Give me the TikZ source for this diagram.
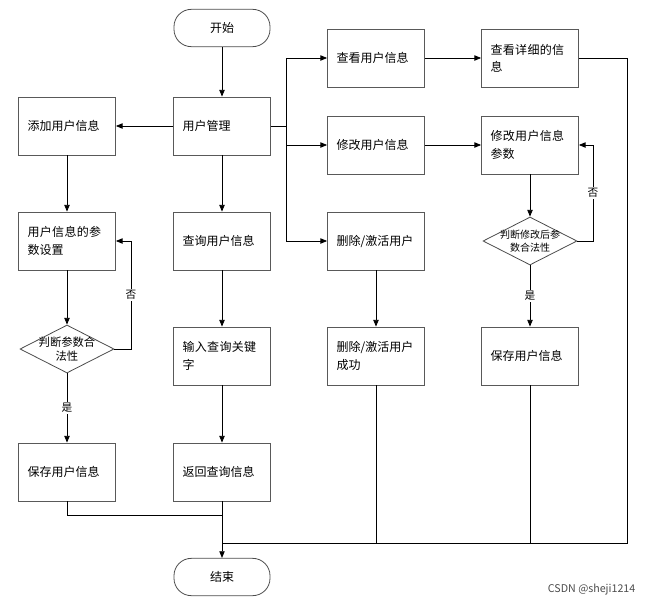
\documentclass[tikz,border=0pt]{standalone}
\usepackage{fontspec}
\setmainfont{Noto Sans CJK SC}
\XeTeXlinebreaklocale "zh"
\XeTeXlinebreakskip=0pt plus 1pt
\usetikzlibrary{shapes.geometric,arrows.meta}
\begin{document}
\begin{tikzpicture}[x=0.75pt,y=-0.75pt,
 box/.style={draw=black!65,line width=0.6pt,minimum width=72.75pt,minimum height=43.5pt,text width=59pt,align=left,font=\fontsize{9}{13}\selectfont,inner sep=3pt},
 term/.style={draw=black!70,line width=0.6pt,rounded corners=13pt,minimum width=72pt,minimum height=28pt,font=\fontsize{9}{10}\selectfont},
 dia/.style={draw=black!70,line width=0.6pt,diamond,minimum width=70.5pt,minimum height=36pt,inner sep=0pt},
 dtxt/.style={align=center,font=\fontsize{8.5}{11}\selectfont,inner sep=0pt},
 ar/.style={-{Triangle[length=5pt,width=4pt]},line width=0.6pt},
 ln/.style={line width=0.6pt},
 lab/.style={font=\fontsize{8}{9}\selectfont,fill=white,inner sep=1pt}]
\useasboundingbox (0,0) rectangle (647,604);
\node[term] (start) at (222,28) {开始};
\node[box] (um) at (222,126) {用户管理};
\node[box] (add) at (67,126) {添加用户信息};
\node[box] (param) at (67,241) {用户信息的参数设置};
\node[dia] (d1) at (67,349) {};
\node[dtxt] (d1t) at (67,349) {判断参数合\\法性};
\node[box] (save1) at (67,472) {保存用户信息};
\node[box] (query) at (222,241) {查询用户信息};
\node[box] (key) at (222,356) {输入查询关键字};
\node[box] (ret) at (222,472) {返回查询信息};
\node[term] (end) at (222,577) {结束};
\node[box] (view) at (376,58) {查看用户信息};
\node[box] (mod) at (376,145) {修改用户信息};
\node[box] (del) at (376,241) {删除/激活用户};
\node[box] (delok) at (376,356) {删除/激活用户\\成功};
\node[box] (detail) at (530,58) {查看详细的信息};
\node[box] (modp) at (530,145) {修改用户信息参数};
\node[dia] (d2) at (530,241) {};
\node[dtxt,font=\fontsize{7.5}{10}\selectfont] (d2t) at (530,241) {判断修改后参\\数合法性};
\node[box] (save2) at (530,356) {保存用户信息};
\coordinate (j1) at (222,515);
\coordinate (j2) at (222,543);
\coordinate (br) at (286,126);
\coordinate (c1) at (131,349);
\coordinate (c2) at (593,241);
\draw[ar] (start) -- (um);
\draw[ar] (um) -- (add);
\draw[ar] (add) -- (param);
\draw[ar] (param) -- (d1);
\draw[ar] (d1) -- node[lab]{是} (save1);
\draw[ar] (d1.east) -- (c1) |- node[lab,pos=0.25]{否} (param.east);
\draw[ar] (um) -- (query);
\draw[ar] (query) -- (key);
\draw[ar] (key) -- (ret);
\draw[ln] (um.east) -- (br);
\draw[ar] (br) |- (view.west);
\draw[ar] (br) |- (mod.west);
\draw[ar] (br) |- (del.west);
\draw[ar] (view) -- (detail);
\draw[ar] (mod) -- (modp);
\draw[ar] (del) -- (delok);
\draw[ar] (modp) -- (d2);
\draw[ar] (d2) -- node[lab]{是} (save2);
\draw[ar] (d2.east) -- (c2) |- node[lab,pos=0.25]{否} (modp.east);
\draw[ln] (save1.south) |- (j1);
\draw[ar] (ret) -- (end);
\draw[ln] (detail.east) -| (627,543) -- (j2);
\draw[ln] (delok.south) -- (376,543);
\draw[ln] (save2.south) -- (530,543);
\node[font=\fontsize{8}{9}\selectfont,text=black!70,anchor=east] (csdn) at (640,590) {CSDN @sheji1214};
\end{tikzpicture}
\end{document}
